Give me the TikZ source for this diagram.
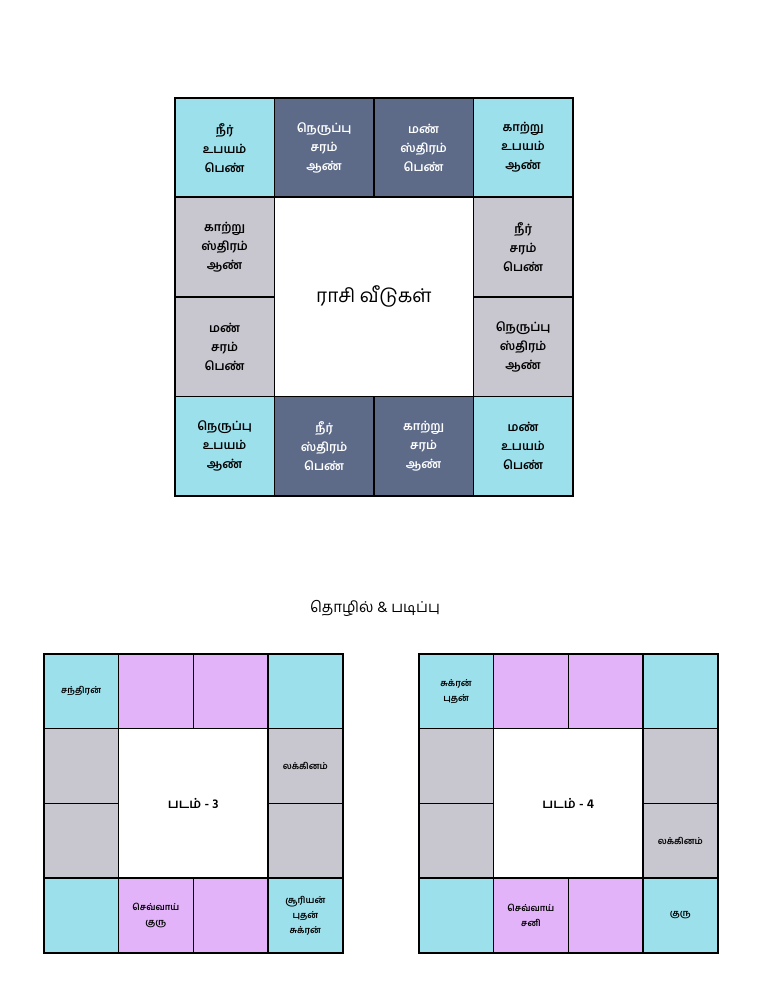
\documentclass[tikz,border=0pt]{standalone}
\usepackage{fontspec}
\setmainfont[Script=Tamil]{Hind Madurai}
\definecolor{cyanc}{HTML}{9CE0EC}
\definecolor{darkc}{HTML}{5D6A88}
\definecolor{grayc}{HTML}{C8C6CE}
\definecolor{vioc}{HTML}{E3B3F9}
\begin{document}
\begin{tikzpicture}[x=1pt,y=-1pt,
  big/.style={draw=black,line width=1.8pt,minimum size=99.5pt,inner sep=0pt,anchor=north west,align=center,font=\bfseries\fontsize{12}{19}\selectfont},
  small/.style={draw=black,line width=1.5pt,minimum size=74.75pt,inner sep=0pt,anchor=north west,align=center,font=\bfseries\fontsize{9}{15}\selectfont},
  cy/.style={fill=cyanc},dk/.style={fill=darkc,text=white},gr/.style={fill=grayc},vi/.style={fill=vioc}]
\useasboundingbox (0,0) rectangle (768,1008);
% top grid
\def\s{99.5}
\node[big,cy] (t11) at (174,97) {நீர்\\உபயம்\\பெண்};
\node[big,dk] (t12) at (174+\s,97) {நெருப்பு\\சரம்\\ஆண்};
\node[big,dk] (t13) at (174+2*\s,97) {மண்\\ஸ்திரம்\\பெண்};
\node[big,cy] (t14) at (174+3*\s,97) {காற்று\\உபயம்\\ஆண்};
\node[big,gr] (t21) at (174,97+\s) {காற்று\\ஸ்திரம்\\ஆண்};
\node[big,gr] (t24) at (174+3*\s,97+\s) {நீர்\\சரம்\\பெண்};
\node[big,gr] (t31) at (174,97+2*\s) {மண்\\சரம்\\பெண்};
\node[big,gr] (t34) at (174+3*\s,97+2*\s) {நெருப்பு\\ஸ்திரம்\\ஆண்};
\node[big,cy] (t41) at (174,97+3*\s) {நெருப்பு\\உபயம்\\ஆண்};
\node[big,dk] (t42) at (174+\s,97+3*\s) {நீர்\\ஸ்திரம்\\பெண்};
\node[big,dk] (t43) at (174+2*\s,97+3*\s) {காற்று\\சரம்\\ஆண்};
\node[big,cy] (t44) at (174+3*\s,97+3*\s) {மண்\\உபயம்\\பெண்};
\node[draw=black,line width=1.8pt,minimum size=199pt,inner sep=0pt,anchor=north west,font=\fontsize{19}{22}\selectfont] (tc) at (174+\s,97+\s) {ராசி வீடுகள்};
% title
\node[font=\fontsize{15}{18}\selectfont] (title) at (375,608) {தொழில் \& படிப்பு};
% bottom grids
\def\t{74.75}
\foreach \ox/\nm in {43/L,418/R}{
  \node[small,cy] (\nm11) at (\ox,653) {};
  \node[small,vi] (\nm12) at (\ox+\t,653) {};
  \node[small,vi] (\nm13) at (\ox+2*\t,653) {};
  \node[small,cy] (\nm14) at (\ox+3*\t,653) {};
  \node[small,gr] (\nm21) at (\ox,653+\t) {};
  \node[small,gr] (\nm24) at (\ox+3*\t,653+\t) {};
  \node[small,gr] (\nm31) at (\ox,653+2*\t) {};
  \node[small,gr] (\nm34) at (\ox+3*\t,653+2*\t) {};
  \node[small,cy] (\nm41) at (\ox,653+3*\t) {};
  \node[small,vi] (\nm42) at (\ox+\t,653+3*\t) {};
  \node[small,vi] (\nm43) at (\ox+2*\t,653+3*\t) {};
  \node[small,cy] (\nm44) at (\ox+3*\t,653+3*\t) {};
  \node[draw=black,line width=1.5pt,minimum size=149.5pt,inner sep=0pt,anchor=north west] (\nm c) at (\ox+\t,653+\t) {};
}
\tikzset{lab/.style={align=center,font=\bfseries\fontsize{9}{15}\selectfont}}
\node[lab] at (L11) {சந்திரன்};
\node[lab] at (L24) {லக்கினம்};
\node[lab] at (L42) {செவ்வாய்\\குரு};
\node[lab] at (L44) {சூரியன்\\புதன்\\சுக்ரன்};
\node[font=\bfseries\fontsize{13}{16}\selectfont] at (Lc) {படம் - 3};
\node[lab] at (R11) {சுக்ரன்\\புதன்};
\node[lab] at (R34) {லக்கினம்};
\node[lab] at (R42) {செவ்வாய்\\சனி};
\node[lab] at (R44) {குரு};
\node[font=\bfseries\fontsize{13}{16}\selectfont] at (Rc) {படம் - 4};
\end{tikzpicture}
\end{document}
